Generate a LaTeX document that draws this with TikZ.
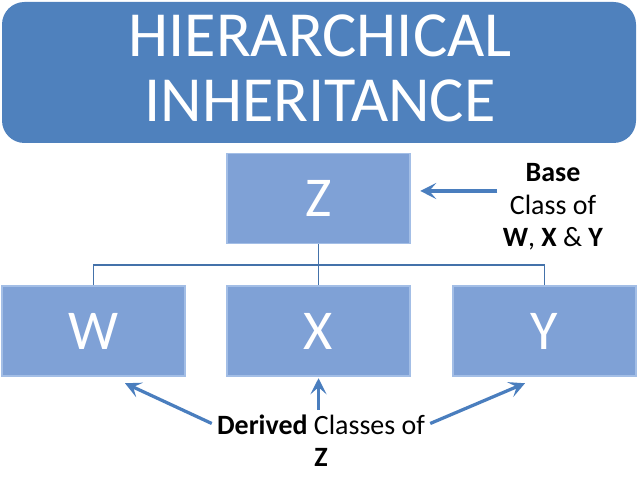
\documentclass[tikz,border=0pt]{standalone}
\usepackage{fontspec}
\setmainfont{Carlito}
\usetikzlibrary{arrows.meta}
\definecolor{titleblue}{RGB}{79,129,189}
\definecolor{boxblue}{RGB}{127,161,214}
\definecolor{boxedge}{RGB}{163,190,230}
\definecolor{linkblue}{RGB}{68,114,170}
\definecolor{arrowblue}{RGB}{74,126,190}

\begin{document}
\begin{tikzpicture}[
	classbox/.style={fill=boxblue, draw=boxedge, line width=0.03cm, minimum width=3.66cm, minimum height=1.80cm, text=white, font=\fontsize{32}{32}\selectfont},
	link/.style={draw=linkblue, line width=0.026cm},
	pointer/.style={draw=arrowblue, line width=0.065cm, -{Stealth[length=0.32cm, width=0.32cm, inset=0.14cm]}},
	note/.style={align=center, font=\fontsize{15.9}{18.4}\selectfont, inner sep=0.1cm}
]
	\useasboundingbox (0,0) rectangle (12.76,9.56);

	\node[fill=titleblue, rounded corners=0.45cm, minimum width=12.68cm, minimum height=2.82cm] (banner) at (6.38,8.11) {};
	\node[text=white, align=center, font=\fontsize{36.6}{37}\selectfont] (title) at (6.40,8.20) {HIERARCHICAL\\INHERITANCE};

	\node[classbox] (Z) at (6.37,5.59) {Z};
	\node[classbox] (W) at (1.87,2.94) {W};
	\node[classbox] (X) at (6.37,2.94) {X};
	\node[classbox] (Y) at (10.89,2.94) {Y};

	\coordinate (bus) at (6.37,4.26);
	\draw[link] (Z.south) -- (X.north);
	\draw[link] (W.north) |- (bus) -| (Y.north);

	\node[note] (base) at (11.06,5.42) {\textbf{Base}\\Class of\\\textbf{W}, \textbf{X} \& \textbf{Y}};
	\coordinate (basetail) at ([yshift=0.32cm]base.west);
	\draw[pointer, shorten >=0.19cm] (basetail) -- (basetail -| Z.east);

	\node[note] (derived) at (6.42,0.74) {\textbf{Derived} Classes of\\\textbf{Z}};
	\coordinate (derivedleft) at ([yshift=0.35cm]derived.west);
	\coordinate (derivedright) at ([yshift=0.35cm]derived.east);
	\draw[pointer] (derivedleft) -- ([xshift=0.63cm,yshift=-0.13cm]W.south);
	\draw[pointer, shorten >=0.03cm] (derived.north -| X.south) -- (X.south);
	\draw[pointer] (derivedright) -- ([xshift=-0.39cm,yshift=-0.13cm]Y.south);

\end{tikzpicture}
\end{document}
